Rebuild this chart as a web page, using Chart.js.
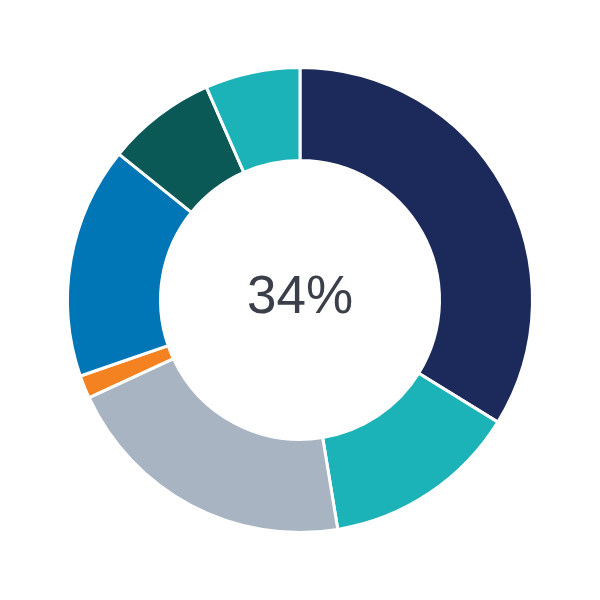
<!DOCTYPE html>
<html>
<head>
<meta charset="utf-8">
<script src="https://cdn.jsdelivr.net/npm/chart.js@4"></script>
<style>
  html, body { margin: 0; padding: 0; background: #fff; }
  #wrap { width: 600px; height: 600px; }
</style>
</head>
<body>
<div id="wrap"><canvas id="chart" width="600" height="600"></canvas></div>
<script>
const labels = ['A', 'B', 'C', 'D', 'E', 'F', 'G'];
const values = [33.8, 13.6, 20.7, 1.6, 16.1, 7.6, 6.6];
const colors = ['#1b2a5a', '#1cb3b8', '#a9b4c2', '#f58220', '#0076b6', '#0a5957', '#1cb3b8'];
const centerLabel = '34%';

const centerText = {
    id: 'centerText',
    afterDraw(chart) {
        const ctx = chart.ctx;
        const meta = chart.getDatasetMeta(0).data[0];
        ctx.save();
        ctx.fillStyle = '#3a3f4a';
        ctx.font = '53px "Liberation Sans", Arial, sans-serif';
        ctx.textAlign = 'center';
        ctx.textBaseline = 'middle';
        ctx.fillText(centerLabel, meta.x, meta.y - 2);
        ctx.restore();
    }
};

new Chart(document.getElementById('chart').getContext('2d'), {
    type: 'doughnut',
    data: {
        labels: labels,
        datasets: [{
            data: values,
            backgroundColor: colors,
            borderColor: '#ffffff',
            borderWidth: 3
        }]
    },
    options: {
        responsive: false,
        animation: false,
        cutout: '60%',
        layout: { padding: 66 },
        plugins: {
            legend: { display: false },
            tooltip: { enabled: false }
        }
    },
    plugins: [centerText]
});
</script>
</body>
</html>
